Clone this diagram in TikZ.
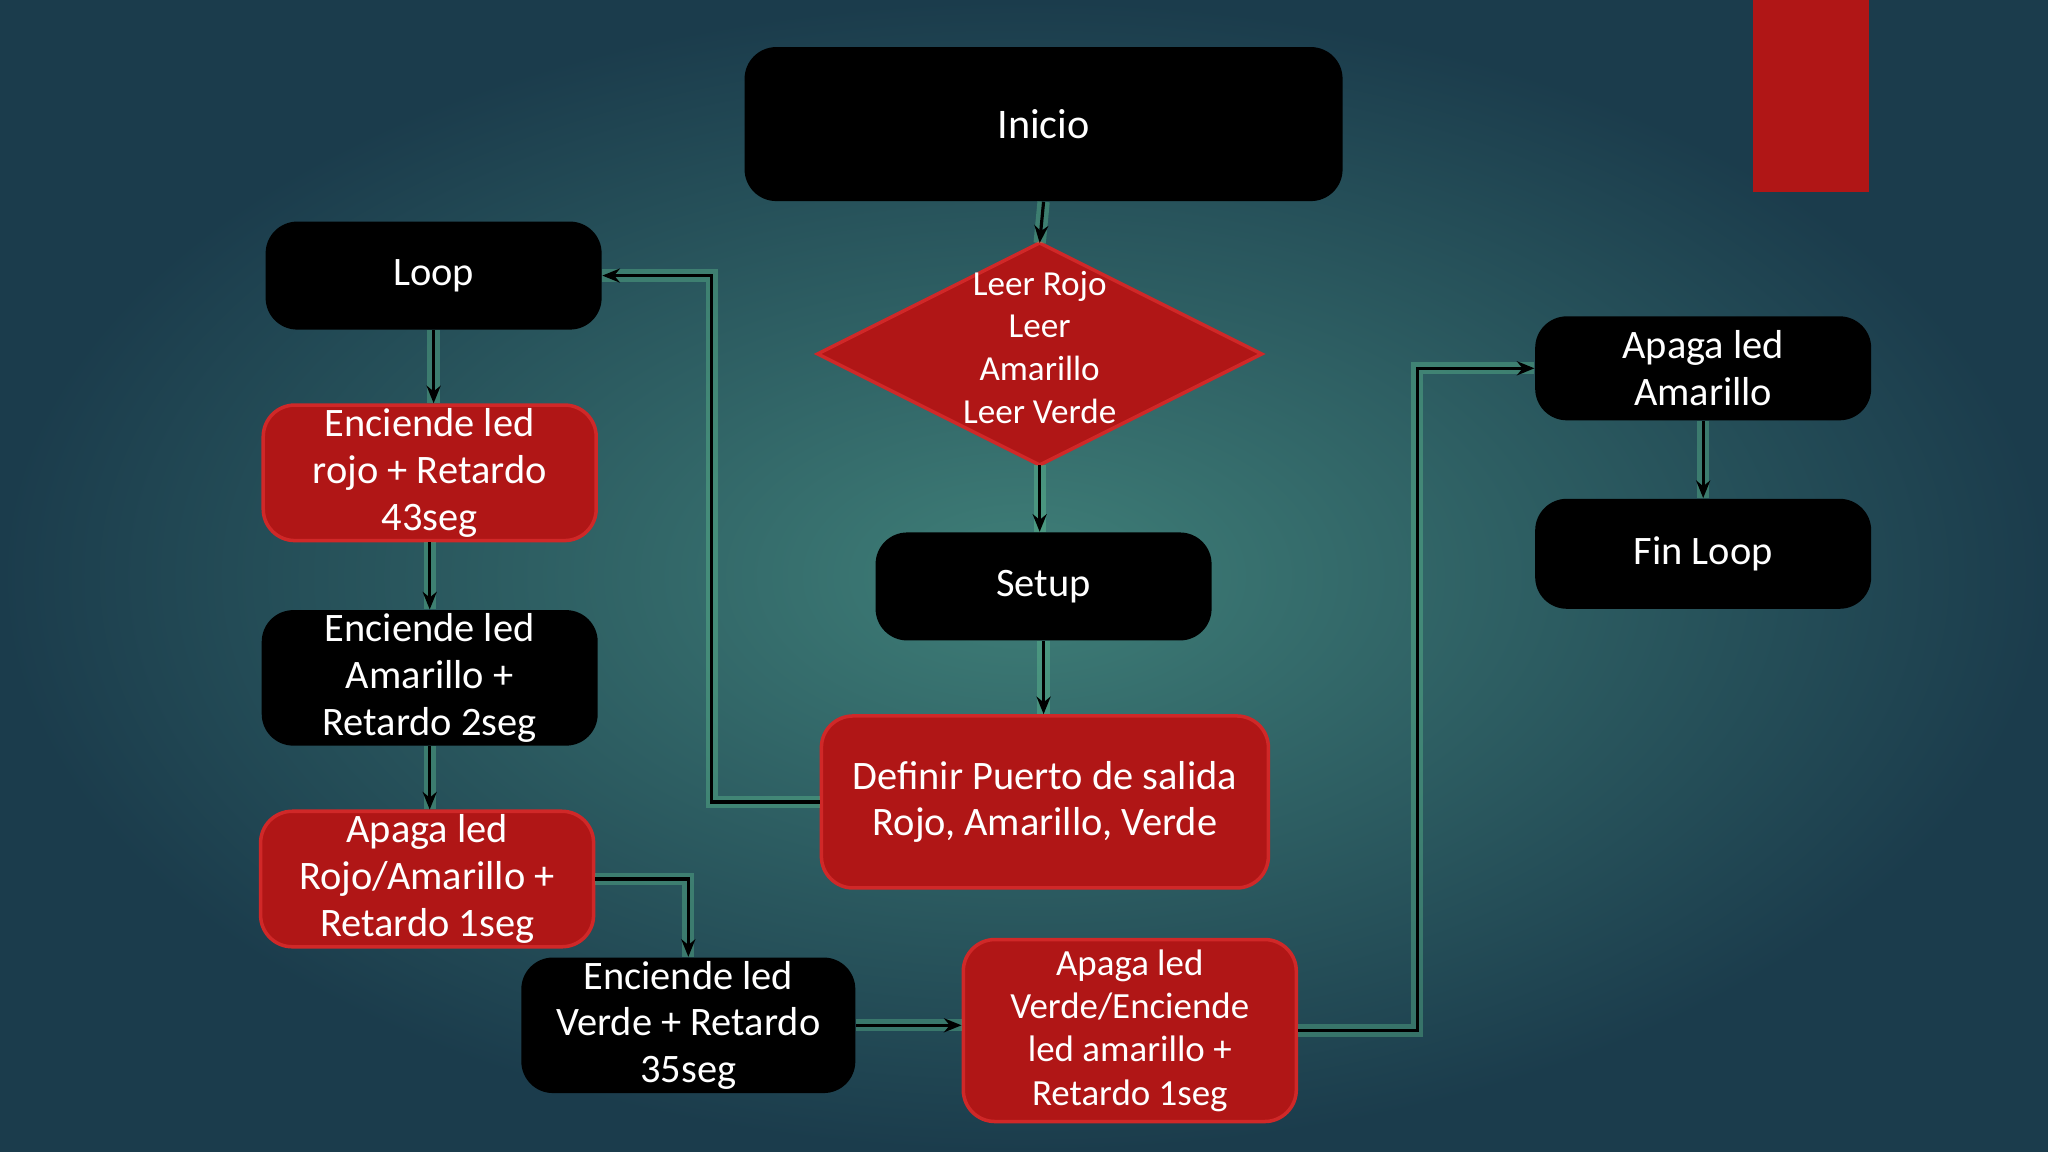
\documentclass[tikz,border=0pt]{standalone}
\usepackage{fontspec}
\setmainfont{Carlito}
\usetikzlibrary{shapes.geometric,arrows.meta}
\definecolor{bgc}{HTML}{3F7F78}
\definecolor{bge}{HTML}{1B3C4C}
\definecolor{rd}{HTML}{B01616}
\definecolor{rdb}{HTML}{D02828}
\definecolor{glow}{HTML}{6FE0A0}
\tikzset{
 box/.style={rounded corners=9pt,minimum width=#1,align=center,text=white,font=\fontsize{11.5}{13.3}\selectfont,inner sep=1pt},
 blk/.style={box=#1,fill=black},
 red/.style={box=#1,fill=rd,draw=rdb,line width=1pt},
 con/.style={draw=black,line width=0.9pt,-{Stealth[length=5pt,width=4pt]},preaction={draw=glow,line width=3.5pt,opacity=0.3,-}},
}
\begin{document}
\begin{tikzpicture}[x=0.013061cm,y=-0.013061cm]
\shade[inner color=bgc,outer color=bge] (0,0) rectangle (1568,882);
\useasboundingbox (0,0) rectangle (1568,882);
\fill[rd] (1342,0) rectangle (1431,147);
\node[blk=5.98cm,minimum height=1.54cm,font=\fontsize{12}{14}\selectfont] (ini) at (799,95) {Inicio};
\coordinate (dn) at (796,186);
\coordinate (ds) at (796,356);
\fill[rd,draw=rdb,line width=1pt] (dn) -- (966,271) -- (ds) -- (626,271) -- cycle;
\node[align=center,text=white,font=\fontsize{10}{12.2}\selectfont] (dia) at (796,266) {Leer Rojo\\Leer\\Amarillo\\Leer Verde};
\node[blk=3.36cm,minimum height=1.08cm] (set) at (799,449) {Setup};
\node[red=4.47cm,minimum height=1.72cm] (def) at (800,614) {Definir Puerto de salida\\Rojo, Amarillo, Verde};
\node[blk=3.36cm,minimum height=1.08cm] (loop) at (332,211) {Loop};
\node[red=3.33cm,minimum height=1.23cm] (r1) at (329,362) {Enciende led\\rojo + Retardo\\43seg};
\node[blk=3.36cm,minimum height=1.24cm] (a1) at (329,519) {Enciende led\\Amarillo +\\Retardo 2seg};
\node[red=3.33cm,minimum height=1.21cm] (r2) at (327,673) {Apaga led\\Rojo/Amarillo +\\Retardo 1seg};
\node[blk=3.34cm,minimum height=1.23cm] (v1) at (527,785) {Enciende led\\Verde + Retardo\\35seg};
\node[red=3.33cm,minimum height=1.82cm,font=\fontsize{10.5}{12.3}\selectfont] (r3) at (865,789) {Apaga led\\Verde/Enciende\\led amarillo +\\Retardo 1seg};
\node[blk=3.36cm,minimum height=1.04cm] (am) at (1304,282) {Apaga led\\Amarillo};
\node[blk=3.36cm,minimum height=1.1cm] (fin) at (1304,424) {Fin Loop};
\draw[con] (ini.south) -- (dn);
\draw[con] (ds) -- (ds |- set.north);
\draw[con] (set.south) -- (set.south |- def.north);
\draw[con] (def.west) -- (545,614) |- (loop.east);
\draw[con] (loop.south) -- (loop.south |- r1.north);
\draw[con] (r1.south) -- (r1.south |- a1.north);
\draw[con] (a1.south) -- (a1.south |- r2.north);
\draw[con] (r2.east) -| (v1.north);
\draw[con] (v1.east) -- (v1.east -| r3.west);
\draw[con] (r3.east) -- (1085,789) |- (am.west);
\draw[con] (am.south) -- (fin.north);
\end{tikzpicture}
\end{document}
